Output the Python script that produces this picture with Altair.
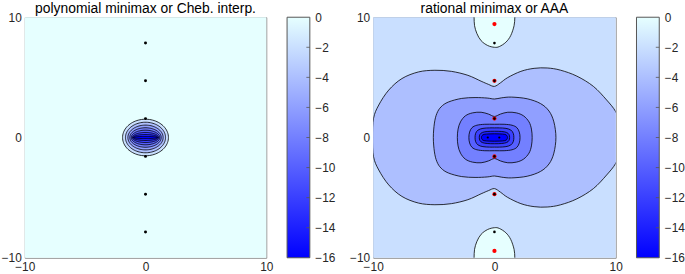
import altair as alt
import numpy as np
import pandas as pd

# ---------------- data ----------------
TITLE_L = "polynomial minimax or Cheb. interp."
TITLE_R = "rational minimax or AAA"
AXIS_TICKS = [-10, 0, 10]
CB_TICKS = [0, -2, -4, -6, -8, -10, -12, -14, -16]
LEVEL_RANGE = [-16, 0]

# singularities (black) shown in both panels
sing_x = [0, 0, 0, 0, 0, 0]
sing_y = [7.85, 4.71, 1.57, -1.57, -4.71, -7.85]

# left panel: nested elliptical contours (fill level of interior, semi-axes)
poly_bg_level = 0
poly_levels = [0, -2, -4, -6, -8, -10, -12, -14]
poly_fill = [-2, -4, -6, -8, -10, -12, -14, -16]
poly_a = [1.9, 1.66, 1.46, 1.3, 1.18, 1.09, 1.03, 1.005]
poly_b = [1.52, 1.27, 1.03, 0.81, 0.61, 0.42, 0.25, 0.09]

# right panel
rat_bg_level = -2
cap_fill = 0
cap_x = [-1.7, -1.68, -1.64, -1.45, -1.1, -0.56, 0, 0.4, 0.94, 1.34, 1.62, 1.68, 1.7]
cap_y = [10.8, 10.0, 9.3, 8.65, 8.05, 7.65, 7.5, 7.56, 7.92, 8.47, 9.3, 10.0, 10.8]

rat_levels = [-2, -4, -6, -8, -10, -12, -14]
rat_fill = [-4, -6, -8, -10, -12, -14, -16]
c1_x = [-10.05, -9.97, -9.54, -8.72, -7.63, -6.27, -4.91, -3.55, -2.19, -1.1, -0.5, 0,
        0.5, 1.09, 2.18, 3.27, 4.35, 5.44, 6.8, 8.16, 9.25, 10.0, 10.45, 10.55]
c1_y = [0, 1.6, 2.7, 3.94, 4.9, 5.45, 5.59, 5.5, 5.17, 4.68, 4.42, 4.25,
        4.55, 4.98, 5.5, 5.75, 5.78, 5.6, 5.1, 4.25, 3.12, 2.15, 1.0, 0]
c2_x = [-5.04, -4.95, -4.75, -4.4, -3.8, -2.7, -1.6, -0.6, 0, 0.6, 1.4, 2.7, 3.8, 4.5, 4.9, 5.07]
c2_y = [0, 1.2, 2.0, 2.55, 2.95, 3.25, 3.32, 3.28, 3.2, 3.3, 3.36, 3.22, 2.82, 2.2, 1.3, 0]
c3_x = [-3.06, -3.0, -2.8, -2.4, -1.8, -1.1, -0.5, 0, 0.5, 1.1, 1.8, 2.4, 2.85, 3.05, 3.11]
c3_y = [0, 0.7, 1.3, 1.8, 2.05, 2.1, 1.95, 1.75, 1.95, 2.1, 2.05, 1.8, 1.3, 0.7, 0]
c4_x = [-2.11, -2.05, -1.85, -1.45, -0.8, 0, 0.8, 1.45, 1.85, 2.05, 2.11]
c4_y = [0, 0.45, 0.82, 1.02, 1.1, 1.1, 1.1, 1.02, 0.82, 0.45, 0]
c5_x = [-1.6, -1.55, -1.35, -0.95, -0.4, 0, 0.4, 0.95, 1.35, 1.55, 1.6]
c5_y = [0, 0.35, 0.62, 0.76, 0.8, 0.8, 0.8, 0.76, 0.62, 0.35, 0]
c6_x = [-1.25, -1.2, -1.0, -0.6, 0, 0.6, 1.0, 1.2, 1.25]
c6_y = [0, 0.25, 0.42, 0.5, 0.52, 0.5, 0.42, 0.25, 0]
c7_x = [-1.07, -1.02, -0.85, -0.45, 0, 0.45, 0.85, 1.02, 1.07]
c7_y = [0, 0.16, 0.26, 0.3, 0.31, 0.3, 0.26, 0.16, 0]
rat_contours = [(c1_x, c1_y), (c2_x, c2_y), (c3_x, c3_y), (c4_x, c4_y),
                (c5_x, c5_y), (c6_x, c6_y), (c7_x, c7_y)]

pole_x = [0, 0, 0, 0, 0, 0]
pole_y = [9.43, 4.71, 1.57, -1.57, -4.71, -9.43]
inner_x = [-0.55, 0.4]
inner_y = [0, 0]

# ---------------- styling ----------------
FONT = "Liberation Sans"
TXT = "#262626"
W_L, W_R, H, CB_W = 244, 245, 243, 23
GAP = 21
CMAP = ["#0000ff", "#e6ffff"]
cscale = alt.Scale(domain=LEVEL_RANGE, range=CMAP, interpolate="rgb")
pscale = alt.Scale(domain=[-10, 10], nice=False, zero=False)


def ax(pad):
    return alt.Axis(values=AXIS_TICKS, title=None, grid=False, ticks=False, domain=False,
                    labelFlush=False, labelPadding=pad, labelFont=FONT, labelFontSize=12,
                    labelColor=TXT)


def X(f):
    return alt.X(f, type="quantitative", scale=pscale, axis=ax(4))


def Y(f):
    return alt.Y(f, type="quantitative", scale=pscale, axis=ax(3.5))


def COL():
    return alt.Color("lev:Q", scale=cscale, legend=None)


def background(level):
    df = pd.DataFrame({"x1": [-10], "x2": [10], "y1": [-10], "y2": [10], "lev": [level]})
    return alt.Chart(df).mark_rect().encode(x=X("x1"), x2="x2", y=Y("y1"), y2="y2", color=COL())


def loop_from_upper(xs, ys):
    # closed loop: upper half left->right, then mirrored lower half right->left
    px = list(xs) + list(xs[-2:0:-1])
    py = list(ys) + [-v for v in ys[-2:0:-1]]
    return px, py


def contour_layer(px, py, level, interp):
    df = pd.DataFrame({"x": px, "y": py, "o": range(len(px)), "lev": level})
    return alt.Chart(df).mark_line(filled=True, interpolate=interp, stroke="black",
                                   strokeWidth=0.8, clip=True).encode(
        x=X("x"), y=Y("y"), order="o:Q", color=COL())


def dots(xs, ys, color, size):
    df = pd.DataFrame({"x": xs, "y": ys})
    return alt.Chart(df).mark_circle(color=color, size=size, opacity=1).encode(x=X("x"), y=Y("y"))


def title(text, w):
    df = pd.DataFrame({"t": [text]})
    return alt.Chart(df).mark_text(font=FONT, fontSize=14, color="black", baseline="alphabetic",
                                   align="center").encode(
        text="t:N", x=alt.value(w / 2), y=alt.value(-4))


def colorbar(total_w):
    grad = {"gradient": "linear", "x1": 0, "y1": 1, "x2": 0, "y2": 0,
            "stops": [{"offset": 0, "color": CMAP[0]}, {"offset": 1, "color": CMAP[1]}]}
    yscale = alt.Scale(domain=LEVEL_RANGE, nice=False, zero=False)
    yaxis = alt.Axis(values=CB_TICKS, orient="right", offset=CB_W - total_w, title=None,
                     grid=False, ticks=False, domain=False, labelPadding=5, labelFont=FONT,
                     labelFontSize=12, labelColor=TXT, labelAlign="left")
    rect = alt.Chart(pd.DataFrame({"lo": [LEVEL_RANGE[0]], "hi": [LEVEL_RANGE[1]]})).mark_rect(
        fill=grad, stroke="#555555", strokeWidth=1).encode(
        x=alt.value(0), x2=alt.value(CB_W), y=alt.Y("lo:Q", scale=yscale, axis=yaxis), y2="hi:Q")
    ticks = alt.Chart(pd.DataFrame({"v": CB_TICKS[1:-1]})).mark_rule(
        color="#555555", strokeWidth=0.8).encode(
        y=alt.Y("v:Q", scale=yscale, axis=yaxis), x=alt.value(CB_W - 3.5), x2=alt.value(CB_W))
    return alt.layer(rect, ticks).properties(
        width=total_w, height=H, view=alt.ViewBackground(stroke=None))


# ---------------- left panel ----------------
t = np.linspace(0, 2 * np.pi, 90, endpoint=False)
left_layers = [background(poly_bg_level)]
for a, b, fl in zip(poly_a, poly_b, poly_fill):
    left_layers.append(contour_layer(a * np.cos(t), b * np.sin(t), fl, "linear-closed"))
left_layers.append(dots(sing_x, sing_y, "black", 9))
left_layers.append(title(TITLE_L, W_L))
left_plot = alt.layer(*left_layers).properties(
    width=W_L, height=H, view=alt.ViewBackground(stroke="#8a8a8a", strokeWidth=1))

# ---------------- right panel ----------------
right_layers = [background(rat_bg_level)]
right_layers.append(contour_layer(cap_x, cap_y, cap_fill, "cardinal-closed"))
right_layers.append(contour_layer(cap_x, [-v for v in cap_y], cap_fill, "cardinal-closed"))
for (xs, ys), fl in zip(rat_contours, rat_fill):
    px, py = loop_from_upper(xs, ys)
    right_layers.append(contour_layer(px, py, fl, "cardinal-closed"))
right_layers.append(dots(pole_x, pole_y, "red", 18))
right_layers.append(dots(sing_x, sing_y, "black", 7))
right_layers.append(dots(inner_x, inner_y, "black", 5))
right_layers.append(title(TITLE_R, W_R))
right_plot = alt.layer(*right_layers).properties(
    width=W_R, height=H, view=alt.ViewBackground(stroke="#8a8a8a", strokeWidth=1))

chart = alt.hconcat(left_plot, colorbar(65.7), right_plot, colorbar(CB_W),
                    spacing=GAP, bounds="flush").properties(
    padding={"left": 0, "top": 0, "right": 0, "bottom": 0}
).configure(background="white")

chart.save("out.html", embed_options={"renderer": "svg", "actions": False})
